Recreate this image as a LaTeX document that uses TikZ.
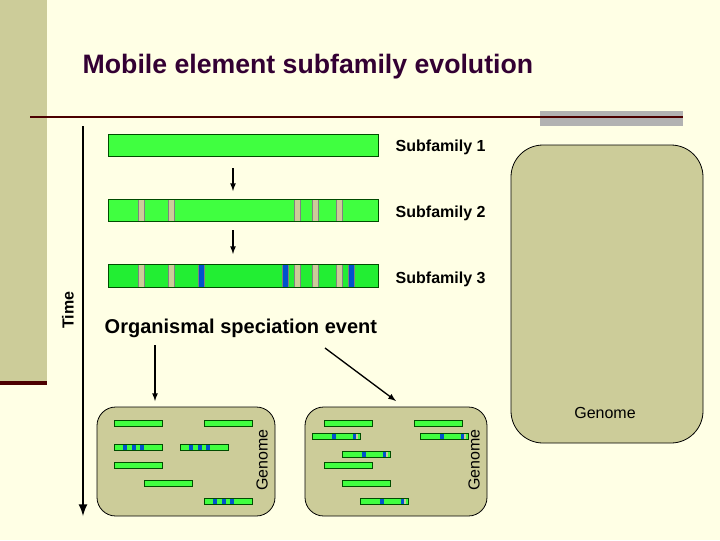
\documentclass[tikz,border=0pt]{standalone}
\usepackage{fontspec}
\setmainfont{Liberation Sans}
\begin{document}
\begin{tikzpicture}[x=0.75pt,y=-0.75pt,
  bar/.style={draw=black!70!green,fill=green!75!white,line width=0.6pt},
  barb/.style={draw=black!70!green,fill=g3,line width=0.6pt},
  box/.style={draw=black,fill=olivetan,rounded corners=14pt,line width=0.6pt},
  lab/.style={font=\bfseries\fontsize{12}{14}\selectfont},
  arr/.style={-latex,line width=1pt}]
\definecolor{olivetan}{HTML}{CCCC99}
\definecolor{bg}{HTML}{FFFFE5}
\definecolor{g3}{HTML}{22EE33}
\definecolor{titlec}{HTML}{330033}
\fill[bg] (0,0) rectangle (720,540);
\useasboundingbox (0,0) rectangle (720,540);
\fill[olivetan] (0,0) rectangle (47,383);
\draw[line width=2.5pt,draw=black!70!red] (0,383) -- (47,383);
\fill[gray!60] (540,111) rectangle (683,126);
\draw[line width=2pt,draw=black!70!red] (30,117) -- (683,117);
\node[font=\bfseries\fontsize{20}{24}\selectfont,text=titlec,anchor=west] (title) at (78,67) {Mobile element subfamily evolution};
% time arrow
\coordinate (t0) at (83,126); \coordinate (t1) at (83,516);
\draw[line width=2pt,-latex] (t0) -- (t1);
\node[lab,rotate=90] (time) at (68,310) {Time};
% subfamilies
\node[bar,minimum width=270*0.75pt,minimum height=22*0.75pt,inner sep=0,anchor=north west] (s1) at (108,134) {};
\node[bar,minimum width=270*0.75pt,minimum height=22*0.75pt,inner sep=0,anchor=north west] (s2) at (108,199) {};
\foreach \x in {138,168,294,312,336} \fill[olivetan,draw=black!50] (\x,199) rectangle ++(6,22);
\draw[black!70!green,line width=0.6pt] (108,199) rectangle (378,221);
\node[barb,minimum width=270*0.75pt,minimum height=23*0.75pt,inner sep=0,anchor=north west] (s3) at (108,264) {};
\foreach \x in {138,168,294,312,336} \fill[olivetan,draw=black!50] (\x,264) rectangle ++(6,23);
\foreach \x in {198,282,348} \fill[blue!60!cyan!80!black,draw=black!50] (\x,264) rectangle ++(6,23);
\draw[black!70!green,line width=0.6pt] (108,264) rectangle (378,287);
\node[lab,anchor=west] (l1) at (391,147) {Subfamily 1};
\node[lab,anchor=west] (l2) at (391,213) {Subfamily 2};
\node[lab,anchor=west] (l3) at (391,279) {Subfamily 3};
\coordinate (a1) at (233,168); \coordinate (a1e) at (233,191);
\coordinate (a2) at (233,230); \coordinate (a2e) at (233,254);
\draw[arr] (a1) -- (a1e); \draw[arr] (a2) -- (a2e);
\node[font=\bfseries\fontsize{15}{18}\selectfont,anchor=west] (spec) at (100,328) {Organismal speciation event};
\coordinate (b1) at (155,345); \coordinate (b1e) at (155,401);
\coordinate (b2) at (325,348); \coordinate (b2e) at (396,401);
\draw[arr] (b1) -- (b1e); \draw[arr] (b2) -- (b2e);
% boxes
\draw[box] (97,407) rectangle (275,516);
\draw[box] (305,407) rectangle (487,516);
\draw[box,rounded corners=24pt] (511,145) rectangle (703,443);
\node[font=\fontsize{12}{14}\selectfont] (g3) at (605,413) {Genome};
\node[font=\fontsize{12}{14}\selectfont,rotate=90] (g1) at (262,460) {Genome};
\node[font=\fontsize{12}{14}\selectfont,rotate=90] (g2) at (474,460) {Genome};
% small bars left
\foreach \x/\y in {114/420,204/420,114/462,144/480}
  \draw[bar] (\x,\y) rectangle ++(48,6);
\foreach \x/\y in {114/444,180/444,204/498}{
  \draw[bar] (\x,\y) rectangle ++(48,6);
  \foreach \o in {9,18,26} \fill[blue!60!cyan!80!black] (\x+\o,\y) rectangle ++(4,6);
  \draw[black!70!green,line width=0.6pt] (\x,\y) rectangle ++(48,6);}
% small bars right
\foreach \x/\y in {324/420,414/420,324/462,342/480}
  \draw[bar] (\x,\y) rectangle ++(48,6);
\foreach \x/\y in {312/433,420/433,342/451,360/498}{
  \draw[bar] (\x,\y) rectangle ++(48,6);
  \fill[blue!60!cyan!80!black] (\x+20,\y) rectangle ++(4,6);
  \fill[blue!60!cyan!80!black] (\x+41,\y) rectangle ++(3,6);
  \fill[olivetan] (\x+44,\y) rectangle ++(2,6);
  \draw[black!70!green,line width=0.6pt] (\x,\y) rectangle ++(48,6);}
\end{tikzpicture}
\end{document}
